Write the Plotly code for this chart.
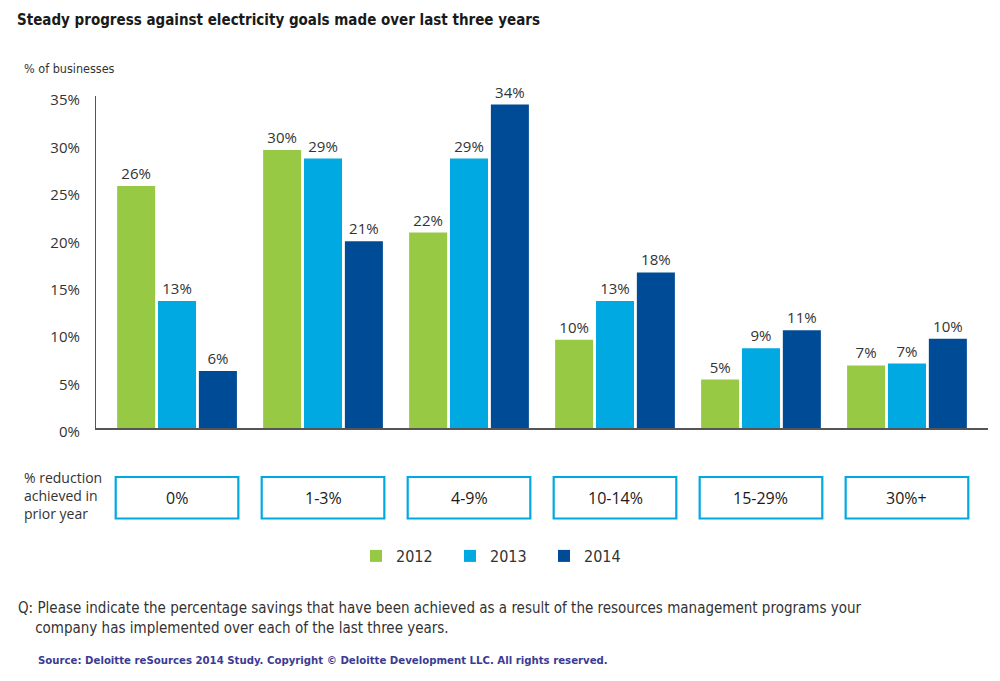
import plotly.graph_objects as go

W, H = 1000, 681

categories = ["0%", "1-3%", "4-9%", "10-14%", "15-29%", "30%+"]
series_names = ["2012", "2013", "2014"]
values_2012 = [25.5, 29.3, 20.6, 9.3, 5.1, 6.6]
values_2013 = [13.4, 28.4, 28.4, 13.4, 8.4, 6.8]
values_2014 = [6.0, 19.7, 34.1, 16.4, 10.3, 9.4]
labels_2012 = ["26%", "30%", "22%", "10%", "5%", "7%"]
labels_2013 = ["13%", "29%", "29%", "13%", "9%", "7%"]
labels_2014 = ["6%", "21%", "34%", "18%", "11%", "10%"]
colors = ["#97c945", "#00a9e2", "#004b95"]

NARROW = "Liberation Sans Narrow, DejaVu Sans Condensed, Arial Narrow, sans-serif"
BODY = "Open Sans, Segoe UI, sans-serif"
TXT = "#333333"


def py(p):
    return 1 - p / H


fig = go.Figure()
for name, vals, labs, col in zip(series_names,
                                 [values_2012, values_2013, values_2014],
                                 [labels_2012, labels_2013, labels_2014],
                                 colors):
    fig.add_trace(go.Bar(
        x=categories, y=vals, name=name, text=labs,
        textposition="outside", cliponaxis=False,
        textfont=dict(family=BODY, size=15, color=TXT),
        marker=dict(color=col, line=dict(width=0)),
    ))

BAR_GAP = 0.16
half = (1 - BAR_GAP) / 2

shapes = []
annotations = []
for i, c in enumerate(categories):
    shapes.append(dict(type="rect", xref="x", yref="paper",
                       x0=i - half, x1=i + half, y0=py(518.5), y1=py(477),
                       line=dict(color="#00a9e2", width=2.2), fillcolor="rgba(0,0,0,0)"))
    annotations.append(dict(x=c, xref="x", y=py(497.5), yref="paper", text=c,
                            showarrow=False, xanchor="center", yanchor="middle",
                            font=dict(family=BODY, size=16, color="#1a1a1a")))

annotations += [
    dict(x=15 / W, y=py(20), xref="paper", yref="paper", xanchor="left", yanchor="middle",
         text="<b>Steady progress against electricity goals made over last three years</b>",
         showarrow=False, font=dict(family=NARROW, size=15, color="#1a1a1a")),
    dict(x=22 / W, y=py(68), xref="paper", yref="paper", xanchor="left", yanchor="middle",
         text="% of businesses", showarrow=False,
         font=dict(family=NARROW, size=12.5, color=TXT)),
    dict(x=22 / W, y=py(495), xref="paper", yref="paper", xanchor="left", yanchor="middle",
         text="% reduction<br>achieved in<br>prior year", align="left", showarrow=False,
         font=dict(family=BODY, size=14, color=TXT)),
    dict(x=16 / W, y=py(618), xref="paper", yref="paper", xanchor="left", yanchor="middle",
         text="Q: Please indicate the percentage savings that have been achieved as a result of the resources management programs your<br>"
              "    company has implemented over each of the last three years.",
         align="left", showarrow=False,
         font=dict(family=NARROW, size=15, color=TXT)),
    dict(x=36 / W, y=py(660), xref="paper", yref="paper", xanchor="left", yanchor="middle",
         text="<b>Source: Deloitte reSources 2014 Study. Copyright © Deloitte Development LLC. All rights reserved.</b>",
         showarrow=False, font=dict(family=NARROW, size=11.3, color="#3b3b94")),
]

fig.update_layout(
    width=W, height=H, autosize=False,
    margin=dict(l=0, r=0, t=0, b=0),
    paper_bgcolor="white", plot_bgcolor="white",
    barmode="group", bargap=BAR_GAP, bargroupgap=0.07,
    showlegend=True,
    legend=dict(orientation="h", x=356 / W, y=py(556), xanchor="left", yanchor="middle",
                entrywidth=49, entrywidthmode="pixels",
                font=dict(family=NARROW, size=16, color=TXT),
                bgcolor="rgba(0,0,0,0)", traceorder="normal"),
    xaxis=dict(domain=[96 / W, 988 / W], range=[-0.555, 5.555], type="category",
               showticklabels=False, ticks="", showgrid=False, zeroline=False,
               showline=True, linecolor="#555555", linewidth=1.5, automargin=False),
    yaxis=dict(domain=[py(428), py(96)], range=[0, 35], dtick=5, ticksuffix="%",
               showgrid=False, zeroline=False, showline=True, linecolor="#555555",
               linewidth=1.2, ticks="", ticklabelstandoff=12, ticklabelshift=4,
               tickfont=dict(family=BODY, size=15, color=TXT), automargin=False),
    shapes=shapes, annotations=annotations,
    font=dict(family=BODY),
)

fig.write_html("out.html")
